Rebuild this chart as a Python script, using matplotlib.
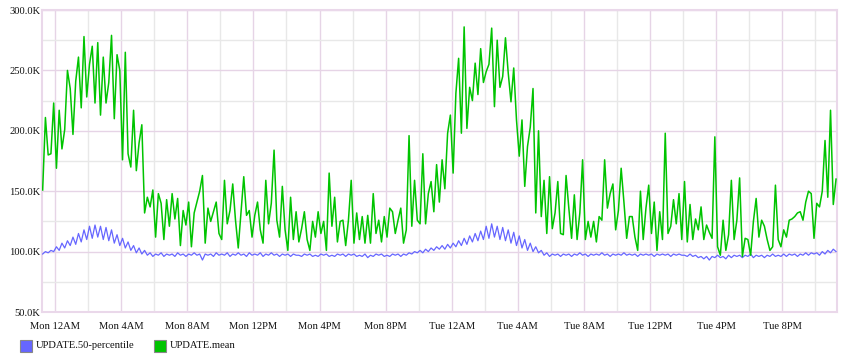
import numpy as np
import matplotlib
matplotlib.use("Agg")
import matplotlib.pyplot as plt
from matplotlib.patches import Rectangle

# values in thousands, one point every 10 minutes starting Sun 11:15PM
mean_k = [
    151, 211, 180, 181, 223, 169, 217, 185, 201, 250,
    235, 197, 241, 261, 219, 278, 228, 255, 270, 223,
    273, 213, 261, 223, 240, 279, 210, 263, 250, 176,
    265, 181, 170, 217, 167, 190, 205, 132, 145, 137,
    151, 112, 148, 140, 110, 143, 121, 148, 127, 144,
    105, 134, 122, 141, 104, 132, 141, 150, 163, 107,
    136, 125, 133, 141, 115, 110, 159, 123, 134, 156,
    126, 103, 132, 162, 130, 134, 112, 130, 141, 118,
    107, 159, 123, 140, 184, 126, 112, 154, 118, 101,
    145, 110, 133, 108, 119, 133, 110, 101, 125, 112,
    133, 115, 125, 101, 165, 121, 145, 108, 125, 126,
    105, 126, 159, 107, 132, 110, 129, 107, 130, 107,
    148, 115, 126, 108, 129, 112, 136, 133, 115, 126,
    136, 107, 118, 196, 121, 159, 126, 123, 181, 123,
    148, 158, 133, 172, 141, 176, 152, 198, 213, 165,
    231, 260, 198, 286, 202, 236, 225, 256, 230, 268,
    240, 249, 255, 285, 220, 275, 236, 245, 277, 248,
    224, 252, 209, 179, 209, 154, 187, 203, 235, 132,
    200, 129, 159, 115, 162, 119, 132, 158, 115, 114,
    163, 136, 111, 147, 110, 132, 176, 110, 125, 112,
    125, 108, 129, 126, 176, 136, 148, 156, 118, 134,
    169, 141, 111, 129, 129, 112, 101, 150, 110, 136,
    155, 115, 141, 101, 133, 110, 198, 115, 121, 143,
    123, 148, 110, 158, 108, 139, 110, 127, 118, 137,
    110, 122, 116, 111, 195, 104, 97, 126, 101, 114,
    159, 110, 126, 161, 96, 111, 110, 97, 125, 144,
    112, 126, 121, 110, 101, 104, 155, 110, 104, 118,
    112, 126, 127, 129, 132, 133, 126, 141, 150, 148,
    111, 140, 137, 150, 192, 145, 217, 139, 160,
]

p50_k = [
    98, 100, 99, 101, 100, 104, 101, 107, 103, 109,
    105, 112, 106, 115, 108, 118, 110, 121, 111, 122,
    112, 121, 110, 120, 109, 118, 107, 114, 105, 111,
    103, 108, 101, 105, 99, 103, 98, 101, 97, 99,
    96, 98, 97, 99, 96, 98, 97, 98, 96, 99,
    97, 98, 96, 98, 97, 99, 97, 98, 93, 98,
    97, 98, 96, 99, 97, 98, 97, 99, 96, 98,
    97, 99, 97, 98, 96, 99, 97, 98, 97, 99,
    96, 98, 97, 99, 97, 98, 96, 98, 97, 98,
    96, 98, 97, 97, 96, 98, 97, 98, 96, 97,
    96, 98, 97, 98, 96, 97, 96, 98, 97, 98,
    96, 98, 97, 98, 96, 97, 96, 98, 95, 97,
    96, 98, 97, 98, 96, 97, 96, 98, 97, 98,
    96, 98, 97, 99, 98, 100, 99, 101, 99, 102,
    100, 103, 101, 104, 102, 105, 102, 106, 103, 107,
    104, 109, 105, 111, 106, 113, 108, 115, 109, 117,
    110, 121, 111, 123, 112, 121, 110, 120, 109, 118,
    107, 116, 105, 113, 103, 110, 101, 107, 100, 104,
    99, 101, 97, 99, 96, 98, 97, 98, 96, 98,
    97, 98, 96, 98, 97, 99, 97, 98, 96, 98,
    97, 98, 97, 99, 97, 98, 96, 98, 97, 98,
    97, 99, 97, 98, 97, 98, 96, 98, 97, 98,
    97, 98, 96, 98, 97, 98, 97, 98, 96, 98,
    97, 98, 97, 97, 96, 98, 96, 97, 95, 96,
    94, 96, 93, 96, 95, 97, 95, 96, 94, 97,
    95, 97, 96, 97, 95, 97, 96, 98, 95, 97,
    96, 97, 95, 97, 96, 98, 96, 97, 96, 98,
    96, 98, 97, 98, 96, 98, 97, 99, 97, 99,
    98, 99, 97, 100, 98, 101, 99, 102, 100,
]

tick_labels = ["Mon 12AM", "Mon 4AM", "Mon 8AM", "Mon 12PM", "Mon 4PM", "Mon 8PM",
               "Tue 12AM", "Tue 4AM", "Tue 8AM", "Tue 12PM", "Tue 4PM", "Tue 8PM"]
y_labels = ["50.0K", "100.0K", "150.0K", "200.0K", "250.0K", "300.0K"]
series_names = ["UPDATE.50-percentile", "UPDATE.mean"]

blue = "#6666ff"
green = "#00c400"
major_c = "#e6d4e6"
minor_c = "#e8e8e8"
font = ["Liberation Serif", "DejaVu Serif"]

# hours relative to Mon 12AM
hours = -0.75 + np.arange(len(mean_k)) / 6.0

fig = plt.figure(figsize=(8.47, 3.58), dpi=100)
W, H = 847, 358
ax = fig.add_axes([42 / W, (H - 312) / H, (836.7 - 42) / W, (312 - 10) / H])

ax.plot(hours, np.array(p50_k) * 1000, color=blue, lw=0.9, zorder=3)
ax.plot(hours, np.array(mean_k) * 1000, color=green, lw=1.1, zorder=4)

ax.set_xlim(-0.79, 47.29)
ax.set_ylim(50000, 300000)

ax.set_yticks(np.arange(50000, 300001, 50000))
ax.set_yticklabels(y_labels)
ax.set_yticks(np.arange(75000, 300000, 50000), minor=True)
ax.set_xticks(np.arange(0, 48, 4))
ax.set_xticklabels(tick_labels)
ax.set_xticks(np.arange(2, 48, 4), minor=True)

ax.grid(which="major", color=major_c, lw=1.0, zorder=1)
ax.grid(which="minor", color=minor_c, lw=1.0, zorder=0)
ax.tick_params(which="both", length=0)
ax.tick_params(axis="y", pad=1)
ax.tick_params(axis="x", pad=7)
for lab in ax.get_xticklabels() + ax.get_yticklabels():
    lab.set_fontfamily(font)
    lab.set_fontsize(7.6)
    lab.set_color("#111111")
for s in ax.spines.values():
    s.set_color("#ead8ea")
    s.set_linewidth(1.5)

# legend squares along the bottom
for x0, c, name in [(20, blue, series_names[0]), (154, green, series_names[1])]:
    fig.patches.append(Rectangle((x0 / W, (H - 352) / H), 12 / W, 12 / H,
                                 transform=fig.transFigure, facecolor=c,
                                 edgecolor="#888888", lw=0.8))
    fig.text((x0 + 16) / W, (H - 346) / H, name, fontsize=7.6, family=font,
             va="center", ha="left", color="#111111")

fig.savefig("out.png", dpi=100)
